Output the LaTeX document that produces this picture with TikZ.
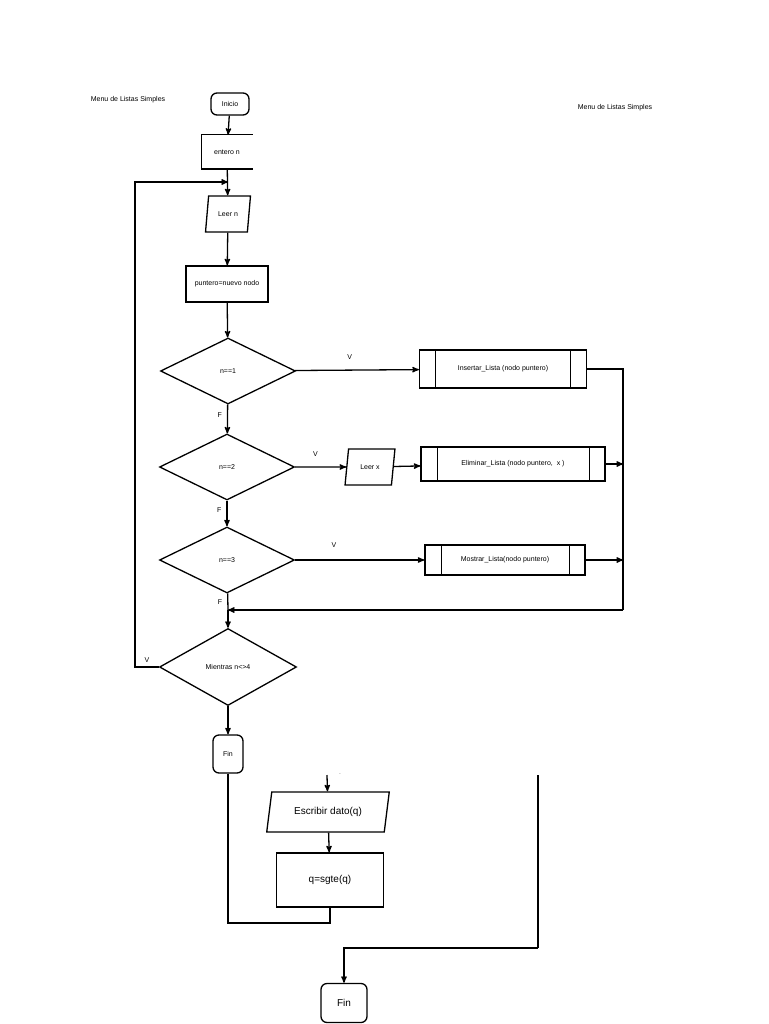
\documentclass[tikz,border=0pt]{standalone}
\usepackage{fontspec}
\setmainfont{Liberation Sans}
\usepackage{tikz}
\usetikzlibrary{arrows, shapes.geometric}

\begin{document}
\begin{tikzpicture}[x=1pt,y=-1pt,->,>=stealth',line width=1.3pt,
  every node/.style={inner sep=0pt,font=\fontsize{7}{8}\selectfont},
  term/.style={draw,rounded corners=6pt,minimum width=#1,minimum height=22pt},
  proc/.style={draw,minimum width=#1,minimum height=36pt},
  io/.style={draw,trapezium,trapezium left angle=72,trapezium right angle=108,
    trapezium stretches=true,minimum width=#1,minimum height=36pt},
  cond/.style={draw,diamond,aspect=2.05,minimum width=135pt,minimum height=66pt},
  sub/.style={draw,minimum width=#1,minimum height=36pt,path picture={
    \draw[-,line width=0.8pt] ([xshift=16pt]path picture bounding box.north west)
      -- ([xshift=16pt]path picture bounding box.south west);
    \draw[-,line width=0.8pt] ([xshift=-16pt]path picture bounding box.north east)
      -- ([xshift=-16pt]path picture bounding box.south east);}},
  lbl/.style={font=\fontsize{7}{8}\selectfont}]

  \useasboundingbox[-] (0,0) rectangle (768,1024);

  \node[lbl] (t1) at (128,100) {Menu de Listas Simples};
  \node[lbl] (t2) at (615,108) {Menu de Listas Simples};

  \node[term=38pt] (ini) at (230,104) {Inicio};
  \node[minimum width=50pt,minimum height=33pt] (ent) at (227,152) {entero n};
  \draw[-] (ent.north east) -- (ent.north west) -- (ent.south west) -- (ent.south east);
  \node[io=45pt] (leen) at (228,214) {Leer n};
  \node[proc=82pt] (punt) at (227,284) {puntero=nuevo nodo};
  \node[cond] (c1) at (228,371) {n==1};
  \node[cond] (c2) at (227,467) {n==2};
  \node[cond] (c3) at (227,560) {n==3};
  \node[cond,minimum width=137pt,minimum height=77pt] (mien) at (228,667) {Mientras n<>4};
  \node[term=30pt,minimum height=38pt] (fin1) at (228,754) {Fin};

  \node[sub=167pt,minimum height=38pt] (ins) at (503,369) {Insertar\_Lista (nodo puntero)};
  \node[io=50pt] (leex) at (370,467) {Leer x};
  \node[sub=184pt,minimum height=34pt] (eli) at (513,464) {Eliminar\_Lista (nodo puntero,\ \ x )};
  \node[sub=160pt,minimum height=30pt] (mos) at (505,560) {Mostrar\_Lista(nodo puntero)};

  \coordinate (lp) at (135,182);
  \coordinate (rt) at (623,369);
  \coordinate (rb) at (623,610);
  \coordinate (jn) at (228,610);

  \path
    (ini) edge (ent)
    (ent) edge (leen)
    (leen) edge (punt)
    (punt) edge (c1)
    (c1) edge node[pos=0.44,above=10pt] {V} (ins)
    (c1) edge node[pos=0.35,left=5pt] {F} (c2)
    (c2) edge node[pos=0.4,above=10pt] {V} (leex)
    (leex) edge (eli)
    (c2) edge node[pos=0.35,left=5pt] {F} (c3)
    (c3) edge node[pos=0.3,above=12pt] {V} (mos)
    (jn) edge (mien)
    (mien) edge (fin1);
  \draw[-] (c3) -- node[pos=0.5,left=5pt] {F} (jn);
  \draw[-] (ins.east) -- (rt) -- (rb);
  \draw (rb) -- (jn);
  \draw (eli.east) -- (eli.east -| rt);
  \draw (mos.east) -- (mos.east -| rt);
  \draw (mien.west) -- node[above=4pt,pos=0.5] {V} (mien.west -| lp) -- (lp) -- (228,182);

  % segunda parte
  \begin{scope}[every node/.style={inner sep=0pt,font=\fontsize{10}{12}\selectfont}]
    \coordinate (in2) at (327,775);
    \node[io=123pt,minimum height=40pt] (esc) at (328,812) {Escribir dato(q)};
    \node[proc=107pt,minimum height=54pt] (sgte) at (330,880) {q=sgte(q)};
    \node[term=46pt,minimum height=39pt] (fin2) at (344,1003) {Fin};
    \node[font=\tiny] (pt) at (340,774) {.};
    \coordinate (top2) at (538,775);
    \coordinate (crn) at (538,948);
    \draw (in2) -- (esc);
    \draw (esc) -- (sgte);
    \draw[-] (fin1.south) -- (228,923) -- (sgte.south |- 0,923) -- (sgte.south);
    \draw[-] (top2) -- (crn);
    \draw (crn) -- (fin2.north |- crn) -- (fin2);
  \end{scope}
\end{tikzpicture}
\end{document}
